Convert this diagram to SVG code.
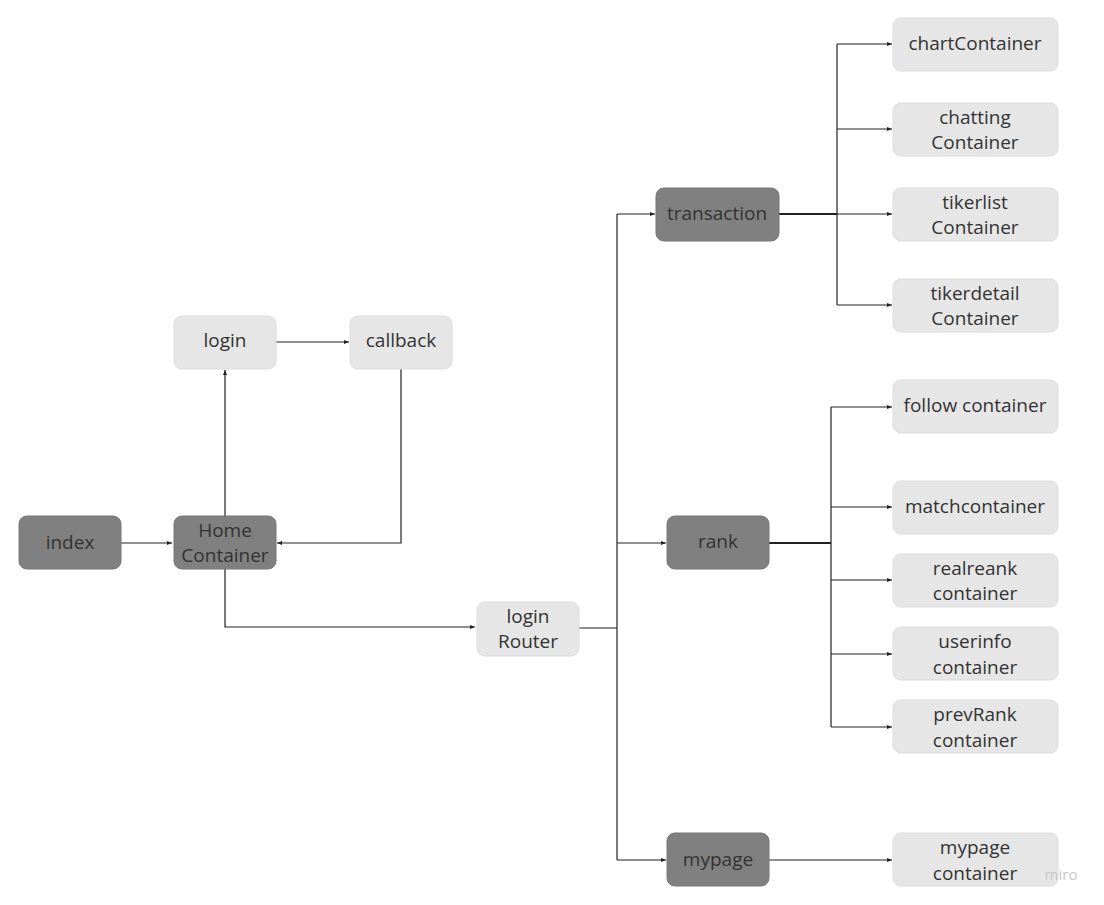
<svg xmlns="http://www.w3.org/2000/svg" width="1104" height="905" viewBox="0 0 1104 905">
<style>
.d{fill:#808080;stroke:#777;stroke-width:1}
.l{fill:#e6e6e6;stroke:#ddd;stroke-width:1}
text{font-family:"Open Sans","Noto Sans",sans-serif;font-size:19px;fill:#333;text-anchor:middle}
.c path{fill:none;stroke:#222;stroke-width:1.2}
</style>
<defs><marker id="a" markerWidth="6" markerHeight="6" refX="5" refY="3" orient="auto" markerUnits="userSpaceOnUse"><path d="M0,1 L5,3 L0,5 z" fill="#222"/></marker></defs>
<rect width="1104" height="905" fill="#fff"/>
<g class="c">
<path d="M121,543 H172" marker-end="url(#a)"/>
<path d="M225,516 V370" marker-end="url(#a)"/>
<path d="M276,342 H349" marker-end="url(#a)"/>
<path d="M401,369 V543 H277" marker-end="url(#a)"/>
<path d="M225,569 V627 H475" marker-end="url(#a)"/>
<path d="M579,628 H617"/>
<path d="M617,214 V860"/>
<path d="M617,214 H655" marker-end="url(#a)"/>
<path d="M617,543 H666" marker-end="url(#a)"/>
<path d="M617,860 H666" marker-end="url(#a)"/>
<path d="M779,214 H837" style="stroke-width:2"/>
<path d="M837,44 V305"/>
<path d="M837,44 H892" marker-end="url(#a)"/>
<path d="M837,129 H892" marker-end="url(#a)"/>
<path d="M837,214 H892" marker-end="url(#a)"/>
<path d="M837,305 H892" marker-end="url(#a)"/>
<path d="M769,543 H831" style="stroke-width:2"/>
<path d="M831,407 V727"/>
<path d="M831,407 H892" marker-end="url(#a)"/>
<path d="M831,507 H892" marker-end="url(#a)"/>
<path d="M831,580 H892" marker-end="url(#a)"/>
<path d="M831,654 H892" marker-end="url(#a)"/>
<path d="M831,727 H892" marker-end="url(#a)"/>
<path d="M769,860 H892" marker-end="url(#a)"/>
</g>
<g id="index"><rect class="d" x="19" y="516" width="102" height="53" rx="8"/><text x="70" y="549">index</text></g>
<g id="home"><rect class="d" x="174" y="516" width="102" height="53" rx="8"/><text x="225" y="537">Home</text><text x="225" y="562">Container</text></g>
<g id="login"><rect class="l" x="174" y="316" width="102" height="53" rx="8"/><text x="225" y="347">login</text></g>
<g id="callback"><rect class="l" x="350" y="316" width="102" height="53" rx="8"/><text x="401" y="347">callback</text></g>
<g id="loginRouter"><rect class="l" x="477" y="602" width="102" height="54" rx="8"/><text x="528" y="623">login</text><text x="528" y="648">Router</text></g>
<g id="transaction"><rect class="d" x="656" y="188" width="123" height="53" rx="8"/><text x="717" y="220">transaction</text></g>
<g id="rank"><rect class="d" x="667" y="516" width="102" height="53" rx="8"/><text x="718" y="548">rank</text></g>
<g id="mypage"><rect class="d" x="667" y="833" width="102" height="53" rx="8"/><text x="718" y="866">mypage</text></g>
<g id="chartContainer"><rect class="l" x="893" y="18" width="165" height="53" rx="8"/><text x="975" y="50">chartContainer</text></g>
<g id="chatting"><rect class="l" x="893" y="103" width="165" height="53" rx="8"/><text x="975" y="124">chatting</text><text x="975" y="149">Container</text></g>
<g id="tikerlist"><rect class="l" x="893" y="188" width="165" height="53" rx="8"/><text x="975" y="209">tikerlist</text><text x="975" y="234">Container</text></g>
<g id="tikerdetail"><rect class="l" x="893" y="279" width="165" height="53" rx="8"/><text x="975" y="300">tikerdetail</text><text x="975" y="325">Container</text></g>
<g id="follow"><rect class="l" x="893" y="380" width="165" height="53" rx="8"/><text x="975" y="412">follow container</text></g>
<g id="match"><rect class="l" x="893" y="481" width="165" height="53" rx="8"/><text x="975" y="513">matchcontainer</text></g>
<g id="realreank"><rect class="l" x="893" y="554" width="165" height="53" rx="8"/><text x="975" y="575">realreank</text><text x="975" y="600">container</text></g>
<g id="userinfo"><rect class="l" x="893" y="627" width="165" height="53" rx="8"/><text x="975" y="648">userinfo</text><text x="975" y="674">container</text></g>
<g id="prevRank"><rect class="l" x="893" y="700" width="165" height="53" rx="8"/><text x="975" y="721">prevRank</text><text x="975" y="747">container</text></g>
<g id="mypageContainer"><rect class="l" x="893" y="833" width="165" height="53" rx="8"/><text x="975" y="854">mypage</text><text x="975" y="880">container</text></g>
<text x="1061" y="880" style="font-size:15px;fill:#c8c8c8">miro</text>
</svg>
